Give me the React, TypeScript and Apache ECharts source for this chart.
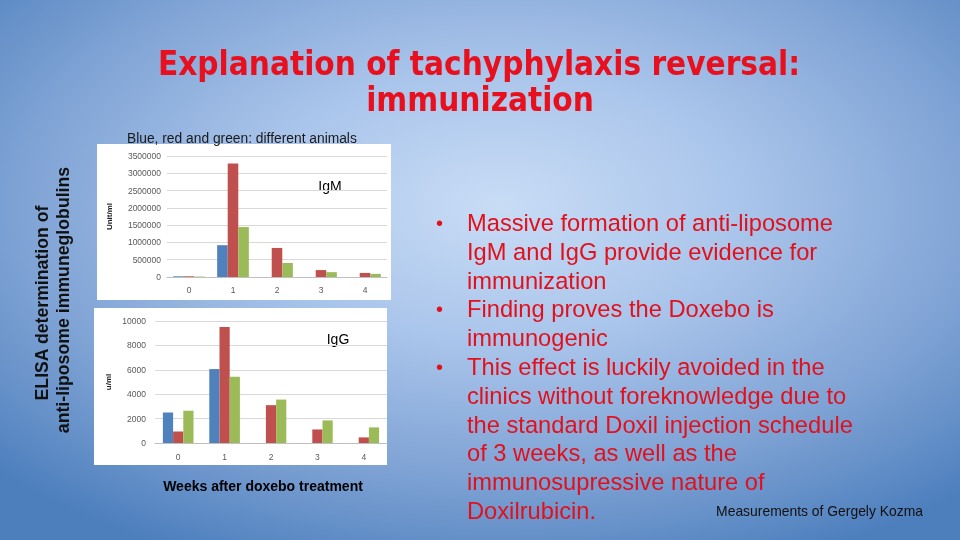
import React, { useEffect, useRef } from "react";
import * as echarts from "echarts";

const weeks = ["0", "1", "2", "3", "4"];
const igmBlue = [20000, 920000, 0, 0, 0];
const igmRed = [20000, 3280000, 840000, 200000, 118000];
const igmGreen = [12000, 1445000, 405000, 140000, 90000];
const iggBlue = [2500, 6060, 0, 0, 0];
const iggRed = [950, 9500, 3100, 1110, 460];
const iggGreen = [2640, 5430, 3560, 1850, 1280];
const bulletLines = [true, false, false, true, false, true, false, false, false, false, false];
const bodyLines = [
  "Massive formation of anti-liposome",
  "IgM and IgG provide evidence for",
  "immunization",
  "Finding proves the Doxebo is",
  "immunogenic",
  "This effect is luckily avoided in the",
  "clinics without foreknowledge due to",
  "the standard Doxil injection schedule",
  "of 3 weeks, as well as the",
  "immunosupressive nature of",
  "Doxilrubicin.",
];

const BLUE = "#4f81bd";
const RED = "#c0504d";
const GREEN = "#9bbb59";
const TXT = "#e3101c";

export default function App() {
  const ref = useRef<HTMLDivElement>(null);
  useEffect(() => {
    if (!ref.current) return;
    const chart = echarts.init(ref.current, null, { renderer: "svg" });
    const axisLabel = {
      fontSize: 8.5,
      color: "#595959",
      fontFamily: "Liberation Sans",
      formatter: (v: any) => String(v),
    };
    const mkBar = (name: string, data: number[], color: string, xi: number, gap: string) => ({
      type: "bar",
      name,
      data,
      xAxisIndex: xi,
      yAxisIndex: xi,
      barGap: "0%",
      barCategoryGap: gap,
      itemStyle: { color },
    });
    const graphics: any[] = [
      { type: "rect", z: -10, shape: { x: 97, y: 144, width: 294, height: 156 }, style: { fill: "#ffffff" } },
      { type: "rect", z: -10, shape: { x: 94, y: 308, width: 293, height: 157 }, style: { fill: "#ffffff" } },
      {
        type: "text", x: 479, y: 63,
        style: { text: "Explanation of tachyphylaxis reversal:", fill: "#e8101e", font: "bold 33px 'DejaVu Sans Condensed'", textAlign: "center", textVerticalAlign: "middle" },
      },
      {
        type: "text", x: 480, y: 99,
        style: { text: "immunization", fill: "#e8101e", font: "bold 33px 'DejaVu Sans Condensed'", textAlign: "center", textVerticalAlign: "middle" },
      },
      {
        type: "text", x: 127, y: 138,
        style: { text: "Blue, red and green: different animals", fill: "#1a1a1a", font: "13.8px 'Liberation Sans'", textAlign: "left", textVerticalAlign: "middle" },
      },
      {
        type: "text", x: 42, y: 303, rotation: Math.PI / 2,
        style: { text: "ELISA determination of", fill: "#111", font: "bold 17.7px 'Liberation Sans'", textAlign: "center", textVerticalAlign: "middle" },
      },
      {
        type: "text", x: 63, y: 300, rotation: Math.PI / 2,
        style: { text: "anti-liposome immuneglobulins", fill: "#111", font: "bold 17.7px 'Liberation Sans'", textAlign: "center", textVerticalAlign: "middle" },
      },
      {
        type: "text", x: 330, y: 186,
        style: { text: "IgM", fill: "#000", font: "14px 'Liberation Sans'", textAlign: "center", textVerticalAlign: "middle" },
      },
      {
        type: "text", x: 338, y: 339,
        style: { text: "IgG", fill: "#000", font: "14px 'Liberation Sans'", textAlign: "center", textVerticalAlign: "middle" },
      },
      {
        type: "text", x: 263, y: 486,
        style: { text: "Weeks after doxebo treatment", fill: "#000", font: "bold 14px 'Liberation Sans'", textAlign: "center", textVerticalAlign: "middle" },
      },
      {
        type: "text", x: 923, y: 511,
        style: { text: "Measurements of Gergely Kozma", fill: "#111", font: "13.9px 'Liberation Sans'", textAlign: "right", textVerticalAlign: "middle" },
      },
    ];
    bodyLines.forEach((line, i) => {
      const y = 223 + i * 28.8;
      if (bulletLines[i]) {
        graphics.push({
          type: "text", x: 436, y,
          style: { text: "•", fill: TXT, font: "20px 'Liberation Sans'", textAlign: "left", textVerticalAlign: "middle" },
        });
      }
      graphics.push({
        type: "text", x: 467, y,
        style: { text: line, fill: TXT, font: "23.7px 'Liberation Sans'", textAlign: "left", textVerticalAlign: "middle" },
      });
    });

    chart.setOption({
      animation: false,
      backgroundColor: {
        type: "radial", x: 0.52, y: 0.38, r: 0.72,
        colorStops: [
          { offset: 0, color: "#c8dcf5" },
          { offset: 0.35, color: "#aac5eb" },
          { offset: 0.7, color: "#7ea2d4" },
          { offset: 1, color: "#4d7fbd" },
        ],
      },
      graphic: graphics,
      grid: [
        { left: 167, right: 573, top: 156, bottom: 263 },
        { left: 155, right: 573, top: 321, bottom: 97 },
      ],
      xAxis: [
        {
          type: "category", gridIndex: 0, data: weeks,
          axisTick: { show: false }, axisLine: { lineStyle: { color: "#bfbfbf" } },
          axisLabel: { ...axisLabel, margin: 8 },
        },
        {
          type: "category", gridIndex: 1, data: weeks,
          axisTick: { show: false }, axisLine: { lineStyle: { color: "#bfbfbf" } },
          axisLabel: { ...axisLabel, margin: 9 },
        },
      ],
      yAxis: [
        {
          type: "value", gridIndex: 0, min: 0, max: 3500000, interval: 500000,
          axisLabel: { ...axisLabel, margin: 6 },
          axisLine: { show: false }, axisTick: { show: false },
          splitLine: { lineStyle: { color: "#d9d9d9" } },
          name: "Unit/ml", nameLocation: "middle", nameRotate: 90, nameGap: 54,
          nameTextStyle: { fontSize: 8, fontWeight: "bold", color: "#222", fontFamily: "Liberation Sans" },
        },
        {
          type: "value", gridIndex: 1, min: 0, max: 10000, interval: 2000,
          axisLabel: { ...axisLabel, margin: 9 },
          axisLine: { show: false }, axisTick: { show: false },
          splitLine: { lineStyle: { color: "#d9d9d9" } },
          name: "u/ml", nameLocation: "middle", nameRotate: 90, nameGap: 43,
          nameTextStyle: { fontSize: 8, fontWeight: "bold", color: "#222", fontFamily: "Liberation Sans" },
        },
      ],
      series: [
        mkBar("Blue", igmBlue, BLUE, 0, "28%"),
        mkBar("Red", igmRed, RED, 0, "28%"),
        mkBar("Green", igmGreen, GREEN, 0, "28%"),
        mkBar("Blue", iggBlue, BLUE, 1, "34%"),
        mkBar("Red", iggRed, RED, 1, "34%"),
        mkBar("Green", iggGreen, GREEN, 1, "34%"),
      ],
    });
    return () => chart.dispose();
  }, []);
  return (
    <div
      ref={ref}
      style={{ position: "fixed", left: 0, top: 0, width: 960, height: 540 }}
    />
  );
}
